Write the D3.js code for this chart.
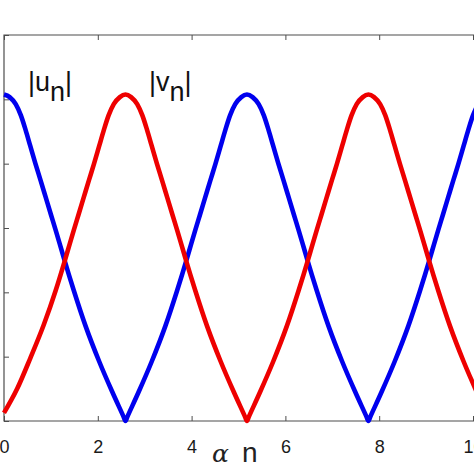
<!DOCTYPE html>
<html>
<head>
<meta charset="utf-8">
<script src="https://cdn.jsdelivr.net/npm/d3@7"></script>
<style>
  html, body { margin: 0; padding: 0; background: #fff; overflow: hidden; }
  svg { display: block; }
</style>
</head>
<body>
<svg id="chart" width="474" height="474"></svg>
<script>
// ---- data ----
const xTicks = [0, 2, 4, 6, 8, 10];
const xTickLabels = ["0", "2", "4", "6", "8", "10"];
const yTicks = [0, 0.2, 0.4, 0.6, 0.8, 1.0, 1.2];

const seriesNames = ["|u", "|v"];

const uN = [0, 0.12, 0.25, 0.36, 0.46, 0.56, 0.67, 0.78, 0.89, 1.0, 1.10, 1.19, 1.28, 1.49, 1.74, 2.03, 2.31, 2.55, 2.59,
  2.63, 2.87, 3.15, 3.44, 3.69, 3.90, 3.99, 4.08, 4.18, 4.29, 4.40, 4.51, 4.62, 4.72, 4.82, 4.93, 5.06, 5.18,
  5.30, 5.43, 5.54, 5.64, 5.74, 5.85, 5.96, 6.07, 6.18, 6.28, 6.37, 6.46, 6.67, 6.92, 7.21, 7.49, 7.73, 7.77,
  7.81, 8.05, 8.33, 8.62, 8.87, 9.08, 9.17, 9.26, 9.36, 9.47, 9.58, 9.69, 9.80, 9.90, 10.00, 10.11, 10.24, 10.36];
const uVal = [1.015, 1.007, 0.985, 0.95, 0.905, 0.855, 0.80, 0.748, 0.695, 0.642, 0.594, 0.55, 0.505, 0.405, 0.295, 0.185, 0.09, 0.013, 0.0,
  0.013, 0.09, 0.185, 0.295, 0.405, 0.505, 0.55, 0.594, 0.642, 0.695, 0.748, 0.80, 0.855, 0.905, 0.95, 0.985, 1.007, 1.015,
  1.007, 0.985, 0.95, 0.905, 0.855, 0.80, 0.748, 0.695, 0.642, 0.594, 0.55, 0.505, 0.405, 0.295, 0.185, 0.09, 0.013, 0.0,
  0.013, 0.09, 0.185, 0.295, 0.405, 0.505, 0.55, 0.594, 0.642, 0.695, 0.748, 0.80, 0.855, 0.905, 0.95, 0.985, 1.007, 1.015];

const vN = [0, 0.28, 0.56, 0.85, 1.10, 1.31, 1.40, 1.49, 1.59, 1.70, 1.81, 1.92, 2.03, 2.13, 2.23, 2.34, 2.47, 2.59,
  2.71, 2.84, 2.95, 3.05, 3.15, 3.26, 3.37, 3.48, 3.59, 3.69, 3.78, 3.87, 4.08, 4.33, 4.62, 4.90, 5.14, 5.18,
  5.22, 5.46, 5.74, 6.03, 6.28, 6.49, 6.58, 6.67, 6.77, 6.88, 6.99, 7.10, 7.21, 7.31, 7.41, 7.52, 7.65, 7.77,
  7.89, 8.02, 8.13, 8.23, 8.33, 8.44, 8.55, 8.66, 8.77, 8.87, 8.96, 9.05, 9.26, 9.51, 9.80, 10.08, 10.32, 10.36];
const vVal = [0.025, 0.10, 0.195, 0.30, 0.405, 0.505, 0.55, 0.594, 0.642, 0.695, 0.748, 0.80, 0.855, 0.905, 0.95, 0.985, 1.007, 1.015,
  1.007, 0.985, 0.95, 0.905, 0.855, 0.80, 0.748, 0.695, 0.642, 0.594, 0.55, 0.505, 0.405, 0.295, 0.185, 0.09, 0.013, 0.0,
  0.013, 0.09, 0.185, 0.295, 0.405, 0.505, 0.55, 0.594, 0.642, 0.695, 0.748, 0.80, 0.855, 0.905, 0.95, 0.985, 1.007, 1.015,
  1.007, 0.985, 0.95, 0.905, 0.855, 0.80, 0.748, 0.695, 0.642, 0.594, 0.55, 0.505, 0.405, 0.295, 0.185, 0.09, 0.013, 0.0];

// ---- drawing ----
const svg = d3.select("#chart");
const mLeft = 4, mRight = 473, mTop = 35, mBottom = 421;
const x = d3.scaleLinear().domain([0, 10]).range([mLeft, mRight]);
const y = d3.scaleLinear().domain([0, 1.2]).range([mBottom, mTop]);
const axisColor = "#4d4d4d";

svg.append("rect").attr("width", 474).attr("height", 474).attr("fill", "#fff");

// box (right side lies outside the visible window)
const plotRight = x(11);
svg.append("path")
  .attr("d", `M${plotRight},${mTop}H${mLeft}V${mBottom}H${plotRight}`)
  .attr("fill", "none").attr("stroke", axisColor).attr("stroke-width", 1.2);

// bottom axis (ticks inward)
const gx = svg.append("g").attr("transform", `translate(0,${mBottom})`)
  .call(d3.axisBottom(x).tickValues(xTicks).tickSize(-5).tickSizeOuter(0)
    .tickFormat((d, i) => xTickLabels[i]).tickPadding(19));
gx.select(".domain").remove();
gx.selectAll(".tick line").attr("stroke", axisColor).attr("stroke-width", 1);
gx.selectAll(".tick text").attr("fill", "#1a1a1a")
  .style("font-family", "'Liberation Sans', Arial, sans-serif").style("font-size", "18px");

// top axis ticks
const gt = svg.append("g").attr("transform", `translate(0,${mTop})`)
  .call(d3.axisTop(x).tickValues(xTicks).tickSize(-5).tickSizeOuter(0).tickFormat(""));
gt.select(".domain").remove();
gt.selectAll(".tick line").attr("stroke", axisColor).attr("stroke-width", 1);

// left axis ticks
const gy = svg.append("g").attr("transform", `translate(${mLeft},0)`)
  .call(d3.axisLeft(y).tickValues(yTicks).tickSize(-5).tickSizeOuter(0).tickFormat(""));
gy.select(".domain").remove();
gy.selectAll(".tick line").attr("stroke", axisColor).attr("stroke-width", 1);

// curves
const line = d3.line().x(d => x(d[0])).y(d => y(d[1])).curve(d3.curveMonotoneX);
const uData = uN.map((n, i) => [n, uVal[i]]);
const vData = vN.map((n, i) => [n, vVal[i]]);

svg.append("path").datum(uData).attr("d", line)
  .attr("fill", "none").attr("stroke", "#0000ee").attr("stroke-width", 4.6)
  .attr("stroke-linejoin", "round");
svg.append("path").datum(vData).attr("d", line)
  .attr("fill", "none").attr("stroke", "#ee0000").attr("stroke-width", 4.6)
  .attr("stroke-linejoin", "round");

// series labels
function seriesLabel(txt, xPos) {
  const t = svg.append("text").attr("x", xPos).attr("y", 91)
    .attr("fill", "#111")
    .style("font-family", "'Liberation Sans', Arial, sans-serif").style("font-size", "27px");
  t.append("tspan").text(txt);
  t.append("tspan").attr("dy", 10).text("n");
  t.append("tspan").attr("dy", -10).text("|");
}
seriesLabel(seriesNames[0], 28);
seriesLabel(seriesNames[1], 149);

// x-axis label
const xl = svg.append("text").attr("y", 462).attr("fill", "#222");
xl.append("tspan").attr("x", 212).style("font-family", "'DejaVu Serif', 'Liberation Serif', serif")
  .style("font-style", "italic").style("font-size", "25px").text("α");
xl.append("tspan").attr("x", 242).style("font-family", "'Liberation Sans', Arial, sans-serif")
  .style("font-size", "28px").text("n");
</script>
</body>
</html>
